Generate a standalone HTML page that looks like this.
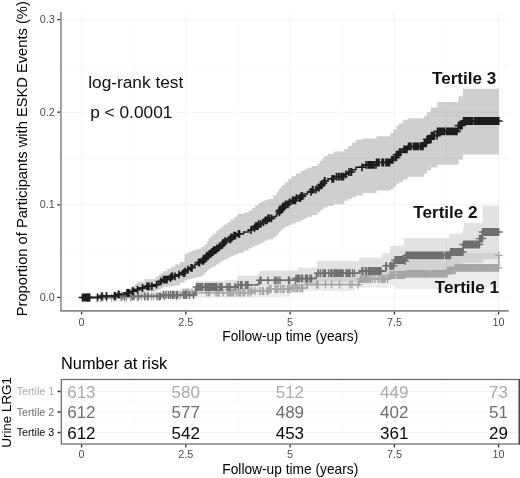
<!DOCTYPE html>
<html><head><meta charset="utf-8"><title>Kaplan-Meier ESKD by Urine LRG1 tertile</title>
<style>
html,body{margin:0;padding:0;background:#fff}
svg{display:block}
text{font-family:"Liberation Sans",Arial,Helvetica,sans-serif}
.tk{font-size:10.8px;fill:#4d4d4d}
.ax{font-size:13.75px;fill:#000}
.lab{font-size:17.1px;font-weight:bold;fill:#111}
.ann{font-size:17.3px;fill:#111}
.n{font-size:17px;text-anchor:middle}
</style></head><body>
<svg width="520" height="478" viewBox="0 0 520 478">
<rect width="520" height="478" fill="#fff"/>
<g><path d="M133.7,12V310" stroke="#f8f8f8" stroke-width="1"/><path d="M238.0,12V310" stroke="#f8f8f8" stroke-width="1"/><path d="M342.2,12V310" stroke="#f8f8f8" stroke-width="1"/><path d="M446.5,12V310" stroke="#f8f8f8" stroke-width="1"/><path d="M81.6,12V310" stroke="#f3f3f3" stroke-width="1"/><path d="M185.8,12V310" stroke="#f3f3f3" stroke-width="1"/><path d="M290.1,12V310" stroke="#f3f3f3" stroke-width="1"/><path d="M394.4,12V310" stroke="#f3f3f3" stroke-width="1"/><path d="M498.6,12V310" stroke="#f3f3f3" stroke-width="1"/><path d="M61,251.0H508.7" stroke="#f8f8f8" stroke-width="1"/><path d="M61,158.5H508.7" stroke="#f8f8f8" stroke-width="1"/><path d="M61,65.9H508.7" stroke="#f8f8f8" stroke-width="1"/><path d="M61,297.3H508.7" stroke="#f3f3f3" stroke-width="1"/><path d="M61,204.8H508.7" stroke="#f3f3f3" stroke-width="1"/><path d="M61,112.2H508.7" stroke="#f3f3f3" stroke-width="1"/><path d="M61,19.7H508.7" stroke="#f3f3f3" stroke-width="1"/></g>
<path d="M81.6,297.5 L140.0,297.5 L140.0,296.8 L141.0,296.8 L141.0,294.0 L180.0,294.0 L180.0,292.0 L181.0,292.0 L181.0,288.0 L280.0,288.0 L280.0,286.0 L290.0,286.0 L290.0,284.0 L305.0,284.0 L305.0,283.0 L308.0,283.0 L308.0,276.0 L355.0,276.0 L355.0,275.0 L359.0,275.0 L359.0,269.0 L388.0,269.0 L388.0,267.0 L390.0,267.0 L390.0,265.0 L395.0,265.0 L395.0,260.0 L445.0,260.0 L445.0,256.5 L447.0,256.5 L447.0,255.8 L455.0,255.8 L455.0,253.0 L498.8,253.0 L498.8,287.7 L455.0,287.7 L455.0,287.5 L447.0,287.5 L447.0,287.6 L445.0,287.6 L445.0,288.9 L395.0,288.9 L395.0,285.5 L390.0,285.5 L390.0,285.6 L388.0,285.6 L388.0,287.7 L359.0,287.7 L359.0,288.0 L355.0,288.0 L355.0,291.0 L308.0,291.0 L308.0,291.4 L305.0,291.4 L305.0,293.5 L290.0,293.5 L290.0,296.5 L280.0,296.5 L280.0,297.0 L181.0,297.0 L181.0,297.5 L180.0,297.5 L180.0,297.5 L141.0,297.5 L141.0,297.5 L140.0,297.5 L140.0,297.5 L81.6,297.5Z" fill="#a8a8a8" fill-opacity="0.22"/>
<path d="M81.6,297.5 L120.0,297.5 L120.0,296.5 L121.0,296.5 L121.0,293.0 L160.0,293.0 L160.0,292.5 L161.0,292.5 L161.0,290.0 L194.0,290.0 L194.0,288.0 L196.0,288.0 L196.0,281.0 L225.0,281.0 L225.0,280.0 L237.7,280.0 L237.7,275.5 L257.0,275.5 L257.0,274.6 L259.0,274.6 L259.0,270.6 L260.0,270.6 L260.0,270.6 L297.0,270.6 L297.0,270.6 L298.0,270.6 L298.0,267.7 L315.0,267.7 L315.0,267.7 L316.0,267.7 L316.0,267.6 L317.0,267.6 L317.0,261.0 L359.0,261.0 L359.0,257.7 L382.0,257.7 L382.0,254.0 L383.0,254.0 L383.0,253.0 L390.0,253.0 L390.0,246.0 L394.0,246.0 L394.0,245.7 L403.0,245.7 L403.0,244.9 L404.0,244.9 L404.0,238.0 L405.0,238.0 L405.0,237.9 L449.0,237.9 L449.0,233.5 L450.0,233.5 L450.0,233.4 L462.0,233.4 L462.0,232.0 L463.0,232.0 L463.0,227.5 L464.0,227.5 L464.0,223.0 L482.0,223.0 L482.0,221.8 L482.7,221.8 L482.7,205.8 L498.8,205.8 L498.8,259.2 L482.7,259.2 L482.7,262.7 L482.0,262.7 L482.0,262.8 L464.0,262.8 L464.0,262.8 L463.0,262.8 L463.0,263.2 L462.0,263.2 L462.0,268.0 L450.0,268.0 L450.0,268.0 L449.0,268.0 L449.0,270.0 L405.0,270.0 L405.0,270.2 L404.0,270.2 L404.0,270.5 L403.0,270.5 L403.0,272.7 L394.0,272.7 L394.0,276.0 L390.0,276.0 L390.0,279.0 L383.0,279.0 L383.0,279.0 L382.0,279.0 L382.0,280.1 L359.0,280.1 L359.0,282.0 L317.0,282.0 L317.0,282.0 L316.0,282.0 L316.0,285.4 L315.0,285.4 L315.0,285.9 L298.0,285.9 L298.0,285.9 L297.0,285.9 L297.0,287.0 L260.0,287.0 L260.0,288.1 L259.0,288.1 L259.0,290.4 L257.0,290.4 L257.0,290.7 L237.7,290.7 L237.7,291.0 L225.0,291.0 L225.0,291.5 L196.0,291.5 L196.0,297.0 L194.0,297.0 L194.0,297.5 L161.0,297.5 L161.0,297.5 L160.0,297.5 L160.0,297.5 L121.0,297.5 L121.0,297.5 L120.0,297.5 L120.0,297.5 L81.6,297.5Z" fill="#707070" fill-opacity="0.2"/>
<path d="M81.6,297.5 L101.6,297.5 L101.6,294.7 L115.8,294.7 L115.8,291.5 L126.3,291.5 L126.3,288.7 L131.8,288.7 L131.8,286.3 L134.8,286.3 L134.8,284.0 L137.8,284.0 L137.8,281.7 L144.6,281.7 L144.6,279.2 L155.8,279.2 L155.8,276.9 L158.3,276.9 L158.3,275.0 L160.8,275.0 L160.8,273.1 L163.3,273.1 L163.3,271.1 L167.1,271.1 L167.1,268.8 L171.1,268.8 L171.1,266.4 L175.1,266.4 L175.1,264.3 L179.8,264.3 L179.8,262.1 L184.6,262.1 L184.6,254.1 L187.3,254.1 L187.3,252.6 L189.8,252.6 L189.8,251.6 L192.3,251.6 L192.3,250.7 L194.8,250.7 L194.8,249.8 L197.3,249.8 L197.3,248.8 L201.1,248.8 L201.1,246.9 L203.6,246.9 L203.6,245.7 L205.3,245.7 L205.3,244.4 L207.1,244.4 L207.1,241.0 L208.8,241.0 L208.8,237.9 L210.8,237.9 L210.8,235.7 L213.3,235.7 L213.3,233.4 L216.1,233.4 L216.1,231.1 L218.8,231.1 L218.8,229.0 L220.8,229.0 L220.8,227.4 L222.6,227.4 L222.6,225.9 L224.3,225.9 L224.3,224.6 L227.3,224.6 L227.3,222.2 L230.6,222.2 L230.6,219.6 L234.1,219.6 L234.1,216.8 L237.6,216.8 L237.6,214.1 L243.6,214.1 L243.6,212.5 L248.8,212.5 L248.8,210.6 L252.1,210.6 L252.1,207.9 L255.3,207.9 L255.3,205.3 L258.6,205.3 L258.6,202.5 L261.6,202.5 L261.6,200.9 L264.6,200.9 L264.6,200.0 L267.6,200.0 L267.6,199.1 L273.1,199.1 L273.1,195.3 L276.4,195.3 L276.4,192.2 L277.9,192.2 L277.9,190.4 L279.4,190.4 L279.4,188.5 L280.9,188.5 L280.9,186.6 L282.4,186.6 L282.4,184.7 L284.9,184.7 L284.9,182.3 L288.4,182.3 L288.4,179.1 L291.6,179.1 L291.6,176.3 L295.9,176.3 L295.9,173.5 L300.9,173.5 L300.9,171.0 L304.1,171.0 L304.1,169.4 L307.4,169.4 L307.4,167.8 L311.9,167.8 L311.9,166.1 L317.6,166.1 L317.6,163.7 L319.9,163.7 L319.9,161.0 L322.1,161.0 L322.1,158.4 L324.1,158.4 L324.1,156.0 L327.9,156.0 L327.9,153.9 L333.9,153.9 L333.9,151.6 L344.4,151.6 L344.4,149.0 L348.1,149.0 L348.1,145.9 L351.9,145.9 L351.9,142.6 L355.9,142.6 L355.9,139.8 L362.9,139.8 L362.9,138.5 L376.6,138.5 L376.6,136.3 L390.4,136.3 L390.4,133.1 L393.4,133.1 L393.4,129.3 L396.4,129.3 L396.4,125.5 L399.1,125.5 L399.1,123.2 L402.9,123.2 L402.9,119.9 L407.6,119.9 L407.6,118.3 L423.9,118.3 L423.9,116.0 L426.9,116.0 L426.9,112.2 L430.9,112.2 L430.9,107.4 L437.4,107.4 L437.4,101.9 L458.4,101.9 L458.4,96.3 L462.9,96.3 L462.9,88.7 L498.8,88.7 L498.8,154.6 L462.9,154.6 L462.9,159.6 L458.4,159.6 L458.4,164.7 L437.4,164.7 L437.4,167.3 L430.9,167.3 L430.9,170.2 L426.9,170.2 L426.9,173.4 L423.9,173.4 L423.9,176.8 L407.6,176.8 L407.6,179.5 L402.9,179.5 L402.9,182.0 L399.1,182.0 L399.1,183.7 L396.4,183.7 L396.4,186.4 L393.4,186.4 L393.4,189.0 L390.4,189.0 L390.4,190.6 L376.6,190.6 L376.6,193.0 L362.9,193.0 L362.9,195.4 L355.9,195.4 L355.9,197.2 L351.9,197.2 L351.9,199.0 L348.1,199.0 L348.1,200.8 L344.4,200.8 L344.4,204.3 L333.9,204.3 L333.9,205.8 L327.9,205.8 L327.9,207.2 L324.1,207.2 L324.1,208.8 L322.1,208.8 L322.1,210.6 L319.9,210.6 L319.9,212.5 L317.6,212.5 L317.6,214.9 L311.9,214.9 L311.9,216.8 L307.4,216.8 L307.4,218.4 L304.1,218.4 L304.1,220.0 L300.9,220.0 L300.9,221.8 L295.9,221.8 L295.9,223.5 L291.6,223.5 L291.6,225.1 L288.4,225.1 L288.4,226.8 L284.9,226.8 L284.9,228.4 L282.4,228.4 L282.4,230.1 L280.9,230.1 L280.9,231.7 L279.4,231.7 L279.4,233.4 L277.9,233.4 L277.9,235.0 L276.4,235.0 L276.4,237.2 L273.1,237.2 L273.1,239.2 L267.6,239.2 L267.6,240.7 L264.6,240.7 L264.6,242.2 L261.6,242.2 L261.6,243.7 L258.6,243.7 L258.6,245.3 L255.3,245.3 L255.3,246.8 L252.1,246.8 L252.1,248.5 L248.8,248.5 L248.8,250.6 L243.6,250.6 L243.6,253.0 L237.6,253.0 L237.6,254.7 L234.1,254.7 L234.1,256.3 L230.6,256.3 L230.6,257.9 L227.3,257.9 L227.3,259.4 L224.3,259.4 L224.3,260.5 L222.6,260.5 L222.6,261.6 L220.8,261.6 L220.8,262.8 L218.8,262.8 L218.8,264.5 L216.1,264.5 L216.1,266.2 L213.3,266.2 L213.3,267.6 L210.8,267.6 L210.8,268.6 L208.8,268.6 L208.8,270.1 L207.1,270.1 L207.1,272.2 L205.3,272.2 L205.3,274.2 L203.6,274.2 L203.6,275.9 L201.1,275.9 L201.1,276.9 L197.3,276.9 L197.3,277.5 L194.8,277.5 L194.8,278.2 L192.3,278.2 L192.3,278.8 L189.8,278.8 L189.8,279.4 L187.3,279.4 L187.3,280.2 L184.6,280.2 L184.6,282.7 L179.8,282.7 L179.8,285.2 L175.1,285.2 L175.1,286.2 L171.1,286.2 L171.1,286.6 L167.1,286.6 L167.1,287.1 L163.3,287.1 L163.3,288.3 L160.8,288.3 L160.8,289.4 L158.3,289.4 L158.3,290.6 L155.8,290.6 L155.8,291.7 L144.6,291.7 L144.6,292.8 L137.8,292.8 L137.8,293.8 L134.8,293.8 L134.8,294.9 L131.8,294.9 L131.8,295.9 L126.3,295.9 L126.3,296.8 L115.8,296.8 L115.8,297.4 L101.6,297.4 L101.6,297.5 L81.6,297.5Z" fill="#222222" fill-opacity="0.215"/>
<path d="M81.6,297.5 L140.0,297.5 L140.0,297.5 L141.0,297.5 L141.0,296.5 L180.0,296.5 L180.0,295.5 L181.0,295.5 L181.0,292.7 L250.0,292.7 L250.0,292.7 L251.0,292.7 L251.0,291.0 L268.0,291.0 L268.0,291.0 L269.0,291.0 L269.0,289.0 L290.0,289.0 L290.0,289.0 L291.0,289.0 L291.0,288.0 L305.0,288.0 L305.0,288.0 L307.0,288.0 L307.0,284.5 L355.0,284.5 L355.0,284.8 L358.0,284.8 L358.0,284.7 L359.0,284.7 L359.0,279.0 L388.0,279.0 L388.0,279.0 L389.0,279.0 L389.0,275.0 L405.0,275.0 L405.0,273.8 L445.0,273.8 L445.0,273.8 L447.0,273.8 L447.0,270.4 L454.0,270.4 L454.0,270.4 L455.0,270.4 L455.0,267.9 L498.8,267.9 V255.4" fill="none" stroke="#a6a6a6" stroke-width="1.6"/>
<path d="M79.1,297.5h7.8M83.0,293.6v7.8M83.1,297.5h7.8M87.0,293.6v7.8M85.6,297.5h7.8M89.5,293.6v7.8M86.1,297.5h7.8M90.0,293.6v7.8M97.6,297.5h7.8M101.5,293.6v7.8M99.1,297.5h7.8M103.0,293.6v7.8M107.6,297.5h7.8M111.5,293.6v7.8M110.1,297.5h7.8M114.0,293.6v7.8M112.1,297.5h7.8M116.0,293.6v7.8M117.1,297.5h7.8M121.0,293.6v7.8M120.6,297.5h7.8M124.5,293.6v7.8M122.6,297.5h7.8M126.5,293.6v7.8M126.6,297.5h7.8M130.5,293.6v7.8M127.1,297.5h7.8M131.0,293.6v7.8M133.6,297.5h7.8M137.5,293.6v7.8M137.6,296.5h7.8M141.5,292.6v7.8M141.6,296.5h7.8M145.5,292.6v7.8M143.6,296.5h7.8M147.5,292.6v7.8M144.1,296.5h7.8M148.0,292.6v7.8M147.6,296.5h7.8M151.5,292.6v7.8M149.6,296.5h7.8M153.5,292.6v7.8M155.1,296.5h7.8M159.0,292.6v7.8M160.6,296.5h7.8M164.5,292.6v7.8M172.6,296.5h7.8M176.5,292.6v7.8M176.1,295.5h7.8M180.0,291.6v7.8M179.6,292.7h7.8M183.5,288.8v7.8M181.6,292.7h7.8M185.5,288.8v7.8M182.1,292.7h7.8M186.0,288.8v7.8M182.6,292.7h7.8M186.5,288.8v7.8M183.6,292.7h7.8M187.5,288.8v7.8M184.1,292.7h7.8M188.0,288.8v7.8M184.6,292.7h7.8M188.5,288.8v7.8M188.1,292.7h7.8M192.0,288.8v7.8M191.1,292.7h7.8M195.0,288.8v7.8M202.6,292.7h7.8M206.5,288.8v7.8M204.6,292.7h7.8M208.5,288.8v7.8M205.6,292.7h7.8M209.5,288.8v7.8M212.1,292.7h7.8M216.0,288.8v7.8M212.6,292.7h7.8M216.5,288.8v7.8M213.1,292.7h7.8M217.0,288.8v7.8M214.6,292.7h7.8M218.5,288.8v7.8M215.1,292.7h7.8M219.0,288.8v7.8M219.1,292.7h7.8M223.0,288.8v7.8M223.6,292.7h7.8M227.5,288.8v7.8M225.1,292.7h7.8M229.0,288.8v7.8M225.6,292.7h7.8M229.5,288.8v7.8M226.6,292.7h7.8M230.5,288.8v7.8M228.1,292.7h7.8M232.0,288.8v7.8M229.6,292.7h7.8M233.5,288.8v7.8M232.6,292.7h7.8M236.5,288.8v7.8M234.6,292.7h7.8M238.5,288.8v7.8M236.1,292.7h7.8M240.0,288.8v7.8M236.6,292.7h7.8M240.5,288.8v7.8M239.1,292.7h7.8M243.0,288.8v7.8M240.6,292.7h7.8M244.5,288.8v7.8M244.1,292.7h7.8M248.0,288.8v7.8M246.6,292.7h7.8M250.5,288.8v7.8M247.1,291.0h7.8M251.0,287.1v7.8M247.6,291.0h7.8M251.5,287.1v7.8M251.1,291.0h7.8M255.0,287.1v7.8M256.1,291.0h7.8M260.0,287.1v7.8M258.6,291.0h7.8M262.5,287.1v7.8M259.6,291.0h7.8M263.5,287.1v7.8M263.1,291.0h7.8M267.0,287.1v7.8M264.1,291.0h7.8M268.0,287.1v7.8M265.6,289.0h7.8M269.5,285.1v7.8M266.1,289.0h7.8M270.0,285.1v7.8M267.1,289.0h7.8M271.0,285.1v7.8M271.1,289.0h7.8M275.0,285.1v7.8M272.6,289.0h7.8M276.5,285.1v7.8M274.1,289.0h7.8M278.0,285.1v7.8M276.6,289.0h7.8M280.5,285.1v7.8M278.6,289.0h7.8M282.5,285.1v7.8M280.1,289.0h7.8M284.0,285.1v7.8M283.6,289.0h7.8M287.5,285.1v7.8M284.1,289.0h7.8M288.0,285.1v7.8M284.6,289.0h7.8M288.5,285.1v7.8M285.6,289.0h7.8M289.5,285.1v7.8M288.1,288.0h7.8M292.0,284.1v7.8M290.1,288.0h7.8M294.0,284.1v7.8M292.1,288.0h7.8M296.0,284.1v7.8M293.6,288.0h7.8M297.5,284.1v7.8M295.6,288.0h7.8M299.5,284.1v7.8M297.6,288.0h7.8M301.5,284.1v7.8M298.6,288.0h7.8M302.5,284.1v7.8M303.1,284.5h7.8M307.0,280.6v7.8M303.6,284.5h7.8M307.5,280.6v7.8M312.6,284.5h7.8M316.5,280.6v7.8M313.6,284.5h7.8M317.5,280.6v7.8M314.1,284.5h7.8M318.0,280.6v7.8M321.6,284.5h7.8M325.5,280.6v7.8M327.6,284.5h7.8M331.5,280.6v7.8M335.6,284.5h7.8M339.5,280.6v7.8M346.1,284.5h7.8M350.0,280.6v7.8M348.1,284.5h7.8M352.0,280.6v7.8M354.1,284.8h7.8M358.0,280.9v7.8M356.6,279.0h7.8M360.5,275.1v7.8M357.1,279.0h7.8M361.0,275.1v7.8M358.1,279.0h7.8M362.0,275.1v7.8M359.1,279.0h7.8M363.0,275.1v7.8M360.1,279.0h7.8M364.0,275.1v7.8M361.6,279.0h7.8M365.5,275.1v7.8M362.1,279.0h7.8M366.0,275.1v7.8M363.1,279.0h7.8M367.0,275.1v7.8M363.6,279.0h7.8M367.5,275.1v7.8M365.1,279.0h7.8M369.0,275.1v7.8M366.1,279.0h7.8M370.0,275.1v7.8M366.6,279.0h7.8M370.5,275.1v7.8M368.6,279.0h7.8M372.5,275.1v7.8M371.1,279.0h7.8M375.0,275.1v7.8M374.1,279.0h7.8M378.0,275.1v7.8M376.1,279.0h7.8M380.0,275.1v7.8M378.1,279.0h7.8M382.0,275.1v7.8M379.1,279.0h7.8M383.0,275.1v7.8M380.1,279.0h7.8M384.0,275.1v7.8M380.6,279.0h7.8M384.5,275.1v7.8M381.1,279.0h7.8M385.0,275.1v7.8M383.6,279.0h7.8M387.5,275.1v7.8M386.6,275.0h7.8M390.5,271.1v7.8M387.1,275.0h7.8M391.0,271.1v7.8M387.6,275.0h7.8M391.5,271.1v7.8M388.6,275.0h7.8M392.5,271.1v7.8M389.1,275.0h7.8M393.0,271.1v7.8M390.6,275.0h7.8M394.5,271.1v7.8M391.1,275.0h7.8M395.0,271.1v7.8M393.1,275.0h7.8M397.0,271.1v7.8M393.6,275.0h7.8M397.5,271.1v7.8M394.6,275.0h7.8M398.5,271.1v7.8M395.1,275.0h7.8M399.0,271.1v7.8M395.6,275.0h7.8M399.5,271.1v7.8M396.6,275.0h7.8M400.5,271.1v7.8M397.1,275.0h7.8M401.0,271.1v7.8M397.6,275.0h7.8M401.5,271.1v7.8M398.1,275.0h7.8M402.0,271.1v7.8M398.6,275.0h7.8M402.5,271.1v7.8M399.1,275.0h7.8M403.0,271.1v7.8M399.6,275.0h7.8M403.5,271.1v7.8M400.1,275.0h7.8M404.0,271.1v7.8M400.6,275.0h7.8M404.5,271.1v7.8M401.6,273.8h7.8M405.5,269.9v7.8M402.6,273.8h7.8M406.5,269.9v7.8M404.1,273.8h7.8M408.0,269.9v7.8M405.1,273.8h7.8M409.0,269.9v7.8M405.6,273.8h7.8M409.5,269.9v7.8M406.1,273.8h7.8M410.0,269.9v7.8M406.6,273.8h7.8M410.5,269.9v7.8M407.1,273.8h7.8M411.0,269.9v7.8M407.6,273.8h7.8M411.5,269.9v7.8M408.1,273.8h7.8M412.0,269.9v7.8M408.6,273.8h7.8M412.5,269.9v7.8M409.1,273.8h7.8M413.0,269.9v7.8M409.6,273.8h7.8M413.5,269.9v7.8M410.1,273.8h7.8M414.0,269.9v7.8M410.6,273.8h7.8M414.5,269.9v7.8M411.1,273.8h7.8M415.0,269.9v7.8M412.1,273.8h7.8M416.0,269.9v7.8M412.6,273.8h7.8M416.5,269.9v7.8M413.6,273.8h7.8M417.5,269.9v7.8M414.1,273.8h7.8M418.0,269.9v7.8M414.6,273.8h7.8M418.5,269.9v7.8M415.1,273.8h7.8M419.0,269.9v7.8M415.6,273.8h7.8M419.5,269.9v7.8M416.1,273.8h7.8M420.0,269.9v7.8M416.6,273.8h7.8M420.5,269.9v7.8M417.1,273.8h7.8M421.0,269.9v7.8M417.6,273.8h7.8M421.5,269.9v7.8M418.1,273.8h7.8M422.0,269.9v7.8M418.6,273.8h7.8M422.5,269.9v7.8M419.1,273.8h7.8M423.0,269.9v7.8M419.6,273.8h7.8M423.5,269.9v7.8M420.1,273.8h7.8M424.0,269.9v7.8M420.6,273.8h7.8M424.5,269.9v7.8M421.6,273.8h7.8M425.5,269.9v7.8M422.1,273.8h7.8M426.0,269.9v7.8M423.1,273.8h7.8M427.0,269.9v7.8M423.6,273.8h7.8M427.5,269.9v7.8M424.6,273.8h7.8M428.5,269.9v7.8M425.1,273.8h7.8M429.0,269.9v7.8M425.6,273.8h7.8M429.5,269.9v7.8M426.1,273.8h7.8M430.0,269.9v7.8M426.6,273.8h7.8M430.5,269.9v7.8M427.1,273.8h7.8M431.0,269.9v7.8M428.6,273.8h7.8M432.5,269.9v7.8M429.1,273.8h7.8M433.0,269.9v7.8M429.6,273.8h7.8M433.5,269.9v7.8M430.6,273.8h7.8M434.5,269.9v7.8M431.1,273.8h7.8M435.0,269.9v7.8M431.6,273.8h7.8M435.5,269.9v7.8M432.1,273.8h7.8M436.0,269.9v7.8M433.1,273.8h7.8M437.0,269.9v7.8M433.6,273.8h7.8M437.5,269.9v7.8M434.1,273.8h7.8M438.0,269.9v7.8M435.1,273.8h7.8M439.0,269.9v7.8M435.6,273.8h7.8M439.5,269.9v7.8M436.1,273.8h7.8M440.0,269.9v7.8M436.6,273.8h7.8M440.5,269.9v7.8M437.1,273.8h7.8M441.0,269.9v7.8M437.6,273.8h7.8M441.5,269.9v7.8M438.1,273.8h7.8M442.0,269.9v7.8M438.6,273.8h7.8M442.5,269.9v7.8M439.1,273.8h7.8M443.0,269.9v7.8M439.6,273.8h7.8M443.5,269.9v7.8M440.6,273.8h7.8M444.5,269.9v7.8M441.1,273.8h7.8M445.0,269.9v7.8M442.1,273.8h7.8M446.0,269.9v7.8M442.6,273.8h7.8M446.5,269.9v7.8M443.1,273.8h7.8M447.0,269.9v7.8M443.6,270.4h7.8M447.5,266.5v7.8M444.6,270.4h7.8M448.5,266.5v7.8M445.1,270.4h7.8M449.0,266.5v7.8M445.6,270.4h7.8M449.5,266.5v7.8M446.6,270.4h7.8M450.5,266.5v7.8M447.6,270.4h7.8M451.5,266.5v7.8M448.1,270.4h7.8M452.0,266.5v7.8M448.6,270.4h7.8M452.5,266.5v7.8M449.1,270.4h7.8M453.0,266.5v7.8M449.6,270.4h7.8M453.5,266.5v7.8M450.1,270.4h7.8M454.0,266.5v7.8M450.6,270.4h7.8M454.5,266.5v7.8M451.1,267.9h7.8M455.0,264.0v7.8M451.1,270.4h7.8M455.0,266.5v7.8M451.6,267.9h7.8M455.5,264.0v7.8M452.1,267.9h7.8M456.0,264.0v7.8M452.6,267.9h7.8M456.5,264.0v7.8M453.1,267.9h7.8M457.0,264.0v7.8M454.1,267.9h7.8M458.0,264.0v7.8M454.6,267.9h7.8M458.5,264.0v7.8M455.1,267.9h7.8M459.0,264.0v7.8M455.6,267.9h7.8M459.5,264.0v7.8M456.1,267.9h7.8M460.0,264.0v7.8M456.6,267.9h7.8M460.5,264.0v7.8M458.1,267.9h7.8M462.0,264.0v7.8M458.6,267.9h7.8M462.5,264.0v7.8M459.6,267.9h7.8M463.5,264.0v7.8M460.1,267.9h7.8M464.0,264.0v7.8M460.6,267.9h7.8M464.5,264.0v7.8M461.6,267.9h7.8M465.5,264.0v7.8M462.1,267.9h7.8M466.0,264.0v7.8M462.6,267.9h7.8M466.5,264.0v7.8M463.1,267.9h7.8M467.0,264.0v7.8M463.6,267.9h7.8M467.5,264.0v7.8M464.1,267.9h7.8M468.0,264.0v7.8M464.6,267.9h7.8M468.5,264.0v7.8M465.1,267.9h7.8M469.0,264.0v7.8M465.6,267.9h7.8M469.5,264.0v7.8M466.1,267.9h7.8M470.0,264.0v7.8M466.6,267.9h7.8M470.5,264.0v7.8M467.1,267.9h7.8M471.0,264.0v7.8M468.6,267.9h7.8M472.5,264.0v7.8M469.1,267.9h7.8M473.0,264.0v7.8M469.6,267.9h7.8M473.5,264.0v7.8M470.1,267.9h7.8M474.0,264.0v7.8M470.6,267.9h7.8M474.5,264.0v7.8M471.1,267.9h7.8M475.0,264.0v7.8M472.1,267.9h7.8M476.0,264.0v7.8M472.6,267.9h7.8M476.5,264.0v7.8M473.1,267.9h7.8M477.0,264.0v7.8M473.6,267.9h7.8M477.5,264.0v7.8M474.1,267.9h7.8M478.0,264.0v7.8M474.6,267.9h7.8M478.5,264.0v7.8M475.1,267.9h7.8M479.0,264.0v7.8M476.1,267.9h7.8M480.0,264.0v7.8M476.6,267.9h7.8M480.5,264.0v7.8M477.1,267.9h7.8M481.0,264.0v7.8M477.6,267.9h7.8M481.5,264.0v7.8M478.6,267.9h7.8M482.5,264.0v7.8M479.1,267.9h7.8M483.0,264.0v7.8M480.6,267.9h7.8M484.5,264.0v7.8M481.1,267.9h7.8M485.0,264.0v7.8M481.6,267.9h7.8M485.5,264.0v7.8M482.6,267.9h7.8M486.5,264.0v7.8M483.1,267.9h7.8M487.0,264.0v7.8M483.6,267.9h7.8M487.5,264.0v7.8M484.1,267.9h7.8M488.0,264.0v7.8M485.1,267.9h7.8M489.0,264.0v7.8M485.6,267.9h7.8M489.5,264.0v7.8M486.6,267.9h7.8M490.5,264.0v7.8M487.1,267.9h7.8M491.0,264.0v7.8M487.6,267.9h7.8M491.5,264.0v7.8M488.1,267.9h7.8M492.0,264.0v7.8M489.1,267.9h7.8M493.0,264.0v7.8M490.1,267.9h7.8M494.0,264.0v7.8M491.1,267.9h7.8M495.0,264.0v7.8M491.6,267.9h7.8M495.5,264.0v7.8M492.6,267.9h7.8M496.5,264.0v7.8M493.1,267.9h7.8M497.0,264.0v7.8M493.6,267.9h7.8M497.5,264.0v7.8M494.1,267.9h7.8M498.0,264.0v7.8M494.6,267.9h7.8M498.5,264.0v7.8M494.9,255.4h7.8M498.8,251.5v7.8" fill="none" stroke="#a6a6a6" stroke-width="1.4"/>
<path d="M81.6,297.5 L120.0,297.5 L120.0,297.5 L121.0,297.5 L121.0,296.3 L160.0,296.3 L160.0,296.3 L161.0,296.3 L161.0,295.0 L194.0,295.0 L194.0,293.8 L196.0,293.8 L196.0,287.0 L225.0,287.0 L225.0,287.0 L237.7,287.0 L237.7,285.0 L257.0,285.0 L257.0,284.5 L258.8,284.5 L258.8,280.3 L295.0,280.3 L295.0,280.3 L296.0,280.3 L296.0,278.5 L315.5,278.5 L315.5,278.4 L316.3,278.4 L316.3,273.2 L358.0,273.2 L358.0,273.0 L360.0,273.0 L360.0,271.0 L383.0,271.0 L383.0,271.0 L385.8,271.0 L385.8,265.8 L394.0,265.8 L394.0,260.0 L404.0,260.0 L404.0,261.0 L405.4,261.0 L405.4,255.4 L449.0,255.4 L449.0,255.4 L450.4,255.4 L450.4,252.0 L462.0,252.0 L462.0,251.9 L463.0,251.9 L463.0,244.5 L479.0,244.5 L479.0,244.4 L479.5,244.4 L479.5,238.6 L482.0,238.6 L482.0,238.4 L482.4,238.4 L482.4,232.0 L498.8,232.0" fill="none" stroke="#6e6e6e" stroke-width="1.6"/>
<path d="M83.1,297.5h7.8M87.0,293.6v7.8M83.6,297.5h7.8M87.5,293.6v7.8M84.6,297.5h7.8M88.5,293.6v7.8M85.1,297.5h7.8M89.0,293.6v7.8M97.1,297.5h7.8M101.0,293.6v7.8M102.6,297.5h7.8M106.5,293.6v7.8M118.1,296.3h7.8M122.0,292.4v7.8M120.6,296.3h7.8M124.5,292.4v7.8M128.6,296.3h7.8M132.5,292.4v7.8M130.1,296.3h7.8M134.0,292.4v7.8M134.6,296.3h7.8M138.5,292.4v7.8M140.6,296.3h7.8M144.5,292.4v7.8M144.1,296.3h7.8M148.0,292.4v7.8M153.1,296.3h7.8M157.0,292.4v7.8M155.6,296.3h7.8M159.5,292.4v7.8M156.6,296.3h7.8M160.5,292.4v7.8M159.6,295.0h7.8M163.5,291.1v7.8M162.1,295.0h7.8M166.0,291.1v7.8M164.6,295.0h7.8M168.5,291.1v7.8M166.6,295.0h7.8M170.5,291.1v7.8M168.6,295.0h7.8M172.5,291.1v7.8M169.1,295.0h7.8M173.0,291.1v7.8M170.1,295.0h7.8M174.0,291.1v7.8M172.6,295.0h7.8M176.5,291.1v7.8M173.6,295.0h7.8M177.5,291.1v7.8M179.6,295.0h7.8M183.5,291.1v7.8M181.1,295.0h7.8M185.0,291.1v7.8M182.6,295.0h7.8M186.5,291.1v7.8M185.6,295.0h7.8M189.5,291.1v7.8M189.6,295.0h7.8M193.5,291.1v7.8M192.6,287.0h7.8M196.5,283.1v7.8M193.1,287.0h7.8M197.0,283.1v7.8M193.6,287.0h7.8M197.5,283.1v7.8M194.1,287.0h7.8M198.0,283.1v7.8M194.6,287.0h7.8M198.5,283.1v7.8M196.1,287.0h7.8M200.0,283.1v7.8M196.6,287.0h7.8M200.5,283.1v7.8M197.1,287.0h7.8M201.0,283.1v7.8M198.6,287.0h7.8M202.5,283.1v7.8M201.1,287.0h7.8M205.0,283.1v7.8M202.1,287.0h7.8M206.0,283.1v7.8M202.6,287.0h7.8M206.5,283.1v7.8M203.1,287.0h7.8M207.0,283.1v7.8M204.6,287.0h7.8M208.5,283.1v7.8M205.1,287.0h7.8M209.0,283.1v7.8M206.1,287.0h7.8M210.0,283.1v7.8M206.6,287.0h7.8M210.5,283.1v7.8M207.1,287.0h7.8M211.0,283.1v7.8M207.6,287.0h7.8M211.5,283.1v7.8M208.1,287.0h7.8M212.0,283.1v7.8M208.6,287.0h7.8M212.5,283.1v7.8M209.1,287.0h7.8M213.0,283.1v7.8M210.1,287.0h7.8M214.0,283.1v7.8M211.1,287.0h7.8M215.0,283.1v7.8M211.6,287.0h7.8M215.5,283.1v7.8M212.1,287.0h7.8M216.0,283.1v7.8M213.1,287.0h7.8M217.0,283.1v7.8M215.6,287.0h7.8M219.5,283.1v7.8M216.1,287.0h7.8M220.0,283.1v7.8M216.6,287.0h7.8M220.5,283.1v7.8M217.1,287.0h7.8M221.0,283.1v7.8M217.6,287.0h7.8M221.5,283.1v7.8M218.1,287.0h7.8M222.0,283.1v7.8M223.1,287.0h7.8M227.0,283.1v7.8M225.1,287.0h7.8M229.0,283.1v7.8M226.1,287.0h7.8M230.0,283.1v7.8M231.1,287.0h7.8M235.0,283.1v7.8M234.1,285.0h7.8M238.0,281.1v7.8M236.6,285.0h7.8M240.5,281.1v7.8M237.6,285.0h7.8M241.5,281.1v7.8M238.1,285.0h7.8M242.0,281.1v7.8M241.6,285.0h7.8M245.5,281.1v7.8M243.1,285.0h7.8M247.0,281.1v7.8M244.1,285.0h7.8M248.0,281.1v7.8M256.1,280.3h7.8M260.0,276.4v7.8M257.1,280.3h7.8M261.0,276.4v7.8M264.1,280.3h7.8M268.0,276.4v7.8M270.6,280.3h7.8M274.5,276.4v7.8M272.1,280.3h7.8M276.0,276.4v7.8M274.1,280.3h7.8M278.0,276.4v7.8M276.1,280.3h7.8M280.0,276.4v7.8M284.6,280.3h7.8M288.5,276.4v7.8M285.6,280.3h7.8M289.5,276.4v7.8M291.6,280.3h7.8M295.5,276.4v7.8M292.1,278.5h7.8M296.0,274.6v7.8M293.6,278.5h7.8M297.5,274.6v7.8M295.1,278.5h7.8M299.0,274.6v7.8M295.6,278.5h7.8M299.5,274.6v7.8M297.6,278.5h7.8M301.5,274.6v7.8M298.6,278.5h7.8M302.5,274.6v7.8M301.6,278.5h7.8M305.5,274.6v7.8M303.1,278.5h7.8M307.0,274.6v7.8M303.6,278.5h7.8M307.5,274.6v7.8M306.1,278.5h7.8M310.0,274.6v7.8M307.6,278.5h7.8M311.5,274.6v7.8M314.1,273.2h7.8M318.0,269.3v7.8M314.6,273.2h7.8M318.5,269.3v7.8M316.6,273.2h7.8M320.5,269.3v7.8M319.1,273.2h7.8M323.0,269.3v7.8M320.6,273.2h7.8M324.5,269.3v7.8M321.1,273.2h7.8M325.0,269.3v7.8M321.6,273.2h7.8M325.5,269.3v7.8M324.6,273.2h7.8M328.5,269.3v7.8M326.6,273.2h7.8M330.5,269.3v7.8M327.6,273.2h7.8M331.5,269.3v7.8M328.1,273.2h7.8M332.0,269.3v7.8M330.1,273.2h7.8M334.0,269.3v7.8M330.6,273.2h7.8M334.5,269.3v7.8M331.6,273.2h7.8M335.5,269.3v7.8M332.1,273.2h7.8M336.0,269.3v7.8M332.6,273.2h7.8M336.5,269.3v7.8M333.6,273.2h7.8M337.5,269.3v7.8M335.1,273.2h7.8M339.0,269.3v7.8M335.6,273.2h7.8M339.5,269.3v7.8M337.1,273.2h7.8M341.0,269.3v7.8M337.6,273.2h7.8M341.5,269.3v7.8M338.6,273.2h7.8M342.5,269.3v7.8M339.1,273.2h7.8M343.0,269.3v7.8M342.1,273.2h7.8M346.0,269.3v7.8M342.6,273.2h7.8M346.5,269.3v7.8M343.1,273.2h7.8M347.0,269.3v7.8M344.6,273.2h7.8M348.5,269.3v7.8M345.6,273.2h7.8M349.5,269.3v7.8M346.1,273.2h7.8M350.0,269.3v7.8M348.6,273.2h7.8M352.5,269.3v7.8M350.6,273.2h7.8M354.5,269.3v7.8M358.1,271.0h7.8M362.0,267.1v7.8M358.6,271.0h7.8M362.5,267.1v7.8M359.1,271.0h7.8M363.0,267.1v7.8M361.6,271.0h7.8M365.5,267.1v7.8M362.6,271.0h7.8M366.5,267.1v7.8M364.6,271.0h7.8M368.5,267.1v7.8M365.6,271.0h7.8M369.5,267.1v7.8M366.6,271.0h7.8M370.5,267.1v7.8M368.1,271.0h7.8M372.0,267.1v7.8M369.6,271.0h7.8M373.5,267.1v7.8M370.1,271.0h7.8M374.0,267.1v7.8M371.6,271.0h7.8M375.5,267.1v7.8M372.1,271.0h7.8M376.0,267.1v7.8M373.1,271.0h7.8M377.0,267.1v7.8M374.6,271.0h7.8M378.5,267.1v7.8M375.1,271.0h7.8M379.0,267.1v7.8M376.1,271.0h7.8M380.0,267.1v7.8M377.1,271.0h7.8M381.0,267.1v7.8M382.1,265.8h7.8M386.0,261.9v7.8M382.6,265.8h7.8M386.5,261.9v7.8M386.1,265.8h7.8M390.0,261.9v7.8M386.6,265.8h7.8M390.5,261.9v7.8M387.6,265.8h7.8M391.5,261.9v7.8M389.1,265.8h7.8M393.0,261.9v7.8M389.6,265.8h7.8M393.5,261.9v7.8M391.1,260.0h7.8M395.0,256.1v7.8M392.1,260.0h7.8M396.0,256.1v7.8M393.1,260.0h7.8M397.0,256.1v7.8M394.1,260.0h7.8M398.0,256.1v7.8M395.1,260.0h7.8M399.0,256.1v7.8M396.1,260.0h7.8M400.0,256.1v7.8M397.1,260.0h7.8M401.0,256.1v7.8M397.6,260.0h7.8M401.5,256.1v7.8M398.1,260.0h7.8M402.0,256.1v7.8M399.1,260.0h7.8M403.0,256.1v7.8M399.6,260.0h7.8M403.5,256.1v7.8M401.1,261.0h7.8M405.0,257.1v7.8M402.1,255.4h7.8M406.0,251.5v7.8M402.6,255.4h7.8M406.5,251.5v7.8M403.1,255.4h7.8M407.0,251.5v7.8M403.6,255.4h7.8M407.5,251.5v7.8M404.1,255.4h7.8M408.0,251.5v7.8M404.6,255.4h7.8M408.5,251.5v7.8M405.1,255.4h7.8M409.0,251.5v7.8M405.6,255.4h7.8M409.5,251.5v7.8M406.6,255.4h7.8M410.5,251.5v7.8M407.6,255.4h7.8M411.5,251.5v7.8M408.1,255.4h7.8M412.0,251.5v7.8M408.6,255.4h7.8M412.5,251.5v7.8M409.6,255.4h7.8M413.5,251.5v7.8M410.1,255.4h7.8M414.0,251.5v7.8M410.6,255.4h7.8M414.5,251.5v7.8M411.1,255.4h7.8M415.0,251.5v7.8M411.6,255.4h7.8M415.5,251.5v7.8M412.6,255.4h7.8M416.5,251.5v7.8M413.1,255.4h7.8M417.0,251.5v7.8M413.6,255.4h7.8M417.5,251.5v7.8M414.1,255.4h7.8M418.0,251.5v7.8M414.6,255.4h7.8M418.5,251.5v7.8M415.6,255.4h7.8M419.5,251.5v7.8M416.1,255.4h7.8M420.0,251.5v7.8M416.6,255.4h7.8M420.5,251.5v7.8M417.1,255.4h7.8M421.0,251.5v7.8M417.6,255.4h7.8M421.5,251.5v7.8M418.1,255.4h7.8M422.0,251.5v7.8M418.6,255.4h7.8M422.5,251.5v7.8M419.6,255.4h7.8M423.5,251.5v7.8M420.1,255.4h7.8M424.0,251.5v7.8M420.6,255.4h7.8M424.5,251.5v7.8M421.6,255.4h7.8M425.5,251.5v7.8M422.1,255.4h7.8M426.0,251.5v7.8M422.6,255.4h7.8M426.5,251.5v7.8M423.1,255.4h7.8M427.0,251.5v7.8M424.1,255.4h7.8M428.0,251.5v7.8M424.6,255.4h7.8M428.5,251.5v7.8M425.1,255.4h7.8M429.0,251.5v7.8M425.6,255.4h7.8M429.5,251.5v7.8M426.1,255.4h7.8M430.0,251.5v7.8M426.6,255.4h7.8M430.5,251.5v7.8M427.1,255.4h7.8M431.0,251.5v7.8M427.6,255.4h7.8M431.5,251.5v7.8M428.1,255.4h7.8M432.0,251.5v7.8M428.6,255.4h7.8M432.5,251.5v7.8M429.1,255.4h7.8M433.0,251.5v7.8M429.6,255.4h7.8M433.5,251.5v7.8M430.1,255.4h7.8M434.0,251.5v7.8M431.1,255.4h7.8M435.0,251.5v7.8M431.6,255.4h7.8M435.5,251.5v7.8M432.1,255.4h7.8M436.0,251.5v7.8M432.6,255.4h7.8M436.5,251.5v7.8M433.1,255.4h7.8M437.0,251.5v7.8M433.6,255.4h7.8M437.5,251.5v7.8M434.1,255.4h7.8M438.0,251.5v7.8M434.6,255.4h7.8M438.5,251.5v7.8M435.1,255.4h7.8M439.0,251.5v7.8M435.6,255.4h7.8M439.5,251.5v7.8M436.1,255.4h7.8M440.0,251.5v7.8M436.6,255.4h7.8M440.5,251.5v7.8M437.1,255.4h7.8M441.0,251.5v7.8M437.6,255.4h7.8M441.5,251.5v7.8M438.1,255.4h7.8M442.0,251.5v7.8M439.6,255.4h7.8M443.5,251.5v7.8M441.6,255.4h7.8M445.5,251.5v7.8M442.1,255.4h7.8M446.0,251.5v7.8M442.6,255.4h7.8M446.5,251.5v7.8M443.6,255.4h7.8M447.5,251.5v7.8M444.1,255.4h7.8M448.0,251.5v7.8M445.1,255.4h7.8M449.0,251.5v7.8M445.6,255.4h7.8M449.5,251.5v7.8M446.6,252.0h7.8M450.5,248.1v7.8M446.6,255.4h7.8M450.5,251.5v7.8M447.1,252.0h7.8M451.0,248.1v7.8M447.6,252.0h7.8M451.5,248.1v7.8M448.1,252.0h7.8M452.0,248.1v7.8M449.1,252.0h7.8M453.0,248.1v7.8M449.6,252.0h7.8M453.5,248.1v7.8M450.1,252.0h7.8M454.0,248.1v7.8M451.6,252.0h7.8M455.5,248.1v7.8M452.1,252.0h7.8M456.0,248.1v7.8M452.6,252.0h7.8M456.5,248.1v7.8M453.1,252.0h7.8M457.0,248.1v7.8M453.6,252.0h7.8M457.5,248.1v7.8M454.1,252.0h7.8M458.0,248.1v7.8M454.6,252.0h7.8M458.5,248.1v7.8M455.1,252.0h7.8M459.0,248.1v7.8M455.6,252.0h7.8M459.5,248.1v7.8M456.1,252.0h7.8M460.0,248.1v7.8M456.6,252.0h7.8M460.5,248.1v7.8M457.1,252.0h7.8M461.0,248.1v7.8M458.1,252.0h7.8M462.0,248.1v7.8M458.6,251.9h7.8M462.5,248.0v7.8M459.1,251.9h7.8M463.0,248.0v7.8M459.6,244.5h7.8M463.5,240.6v7.8M460.1,244.5h7.8M464.0,240.6v7.8M460.6,244.5h7.8M464.5,240.6v7.8M461.1,244.5h7.8M465.0,240.6v7.8M461.6,244.5h7.8M465.5,240.6v7.8M462.1,244.5h7.8M466.0,240.6v7.8M462.6,244.5h7.8M466.5,240.6v7.8M463.1,244.5h7.8M467.0,240.6v7.8M463.6,244.5h7.8M467.5,240.6v7.8M464.1,244.5h7.8M468.0,240.6v7.8M464.6,244.5h7.8M468.5,240.6v7.8M465.1,244.5h7.8M469.0,240.6v7.8M466.1,244.5h7.8M470.0,240.6v7.8M466.6,244.5h7.8M470.5,240.6v7.8M467.1,244.5h7.8M471.0,240.6v7.8M467.6,244.5h7.8M471.5,240.6v7.8M468.6,244.5h7.8M472.5,240.6v7.8M469.1,244.5h7.8M473.0,240.6v7.8M469.6,244.5h7.8M473.5,240.6v7.8M471.1,244.5h7.8M475.0,240.6v7.8M471.6,244.5h7.8M475.5,240.6v7.8M472.1,244.5h7.8M476.0,240.6v7.8M472.6,244.5h7.8M476.5,240.6v7.8M474.1,244.5h7.8M478.0,240.6v7.8M474.6,244.5h7.8M478.5,240.6v7.8M475.1,244.4h7.8M479.0,240.5v7.8M475.1,244.5h7.8M479.0,240.6v7.8M475.6,238.6h7.8M479.5,234.7v7.8M475.6,244.4h7.8M479.5,240.5v7.8M476.6,238.6h7.8M480.5,234.7v7.8M477.1,238.6h7.8M481.0,234.7v7.8M477.6,238.6h7.8M481.5,234.7v7.8M478.1,238.4h7.8M482.0,234.5v7.8M478.1,238.6h7.8M482.0,234.7v7.8M478.6,232.0h7.8M482.5,228.1v7.8M478.6,238.4h7.8M482.5,234.5v7.8M479.6,232.0h7.8M483.5,228.1v7.8M480.6,232.0h7.8M484.5,228.1v7.8M482.1,232.0h7.8M486.0,228.1v7.8M483.1,232.0h7.8M487.0,228.1v7.8M483.6,232.0h7.8M487.5,228.1v7.8M484.1,232.0h7.8M488.0,228.1v7.8M484.6,232.0h7.8M488.5,228.1v7.8M485.1,232.0h7.8M489.0,228.1v7.8M485.6,232.0h7.8M489.5,228.1v7.8M486.1,232.0h7.8M490.0,228.1v7.8M486.6,232.0h7.8M490.5,228.1v7.8M487.1,232.0h7.8M491.0,228.1v7.8M488.1,232.0h7.8M492.0,228.1v7.8M488.6,232.0h7.8M492.5,228.1v7.8M489.1,232.0h7.8M493.0,228.1v7.8M489.6,232.0h7.8M493.5,228.1v7.8M490.6,232.0h7.8M494.5,228.1v7.8M491.6,232.0h7.8M495.5,228.1v7.8M492.1,232.0h7.8M496.0,228.1v7.8M493.1,232.0h7.8M497.0,228.1v7.8M493.6,232.0h7.8M497.5,228.1v7.8M494.1,232.0h7.8M498.0,228.1v7.8M494.9,232.0h7.8M498.8,228.1v7.8" fill="none" stroke="#6e6e6e" stroke-width="1.4"/>
<path d="M81.6,297.5 L101.6,297.5 L101.6,296.0 L115.8,296.0 L115.8,294.4 L126.3,294.4 L126.3,292.8 L131.8,292.8 L131.8,291.2 L134.8,291.2 L134.8,289.6 L137.8,289.6 L137.8,288.0 L144.6,288.0 L144.6,286.3 L155.8,286.3 L155.8,284.7 L158.3,284.7 L158.3,283.0 L160.8,283.0 L160.8,281.4 L163.3,281.4 L163.3,279.7 L167.1,279.7 L167.1,278.0 L171.1,278.0 L171.1,276.3 L175.1,276.3 L175.1,274.7 L179.8,274.7 L179.8,273.0 L184.6,273.0 L184.6,271.3 L187.3,271.3 L187.3,269.5 L189.8,269.5 L189.8,267.8 L192.3,267.8 L192.3,266.1 L194.8,266.1 L194.8,264.4 L197.3,264.4 L197.3,262.6 L201.1,262.6 L201.1,260.9 L203.6,260.9 L203.6,259.1 L205.3,259.1 L205.3,257.3 L207.1,257.3 L207.1,255.6 L208.8,255.6 L208.8,253.8 L210.8,253.8 L210.8,252.0 L213.3,252.0 L213.3,250.2 L216.1,250.2 L216.1,248.4 L218.8,248.4 L218.8,246.6 L220.8,246.6 L220.8,244.8 L222.6,244.8 L222.6,243.0 L224.3,243.0 L224.3,241.2 L227.3,241.2 L227.3,239.3 L230.6,239.3 L230.6,237.5 L234.1,237.5 L234.1,235.6 L237.6,235.6 L237.6,233.8 L243.6,233.8 L243.6,231.9 L248.8,231.9 L248.8,230.0 L252.1,230.0 L252.1,228.1 L255.3,228.1 L255.3,226.2 L258.6,226.2 L258.6,224.2 L261.6,224.2 L261.6,222.3 L264.6,222.3 L264.6,220.3 L267.6,220.3 L267.6,218.4 L273.1,218.4 L273.1,216.4 L276.4,216.4 L276.4,214.4 L277.9,214.4 L277.9,212.4 L279.4,212.4 L279.4,210.4 L280.9,210.4 L280.9,208.4 L282.4,208.4 L282.4,206.4 L284.9,206.4 L284.9,204.3 L288.4,204.3 L288.4,202.3 L291.6,202.3 L291.6,200.3 L295.9,200.3 L295.9,198.2 L300.9,198.2 L300.9,196.1 L304.1,196.1 L304.1,194.0 L307.4,194.0 L307.4,191.9 L311.9,191.9 L311.9,189.7 L317.6,189.7 L317.6,187.6 L319.9,187.6 L319.9,185.4 L322.1,185.4 L322.1,183.2 L324.1,183.2 L324.1,181.0 L327.9,181.0 L327.9,178.8 L333.9,178.8 L333.9,176.6 L344.4,176.6 L344.4,174.3 L348.1,174.3 L348.1,172.0 L351.9,172.0 L351.9,169.7 L355.9,169.7 L355.9,167.3 L362.9,167.3 L362.9,164.9 L376.6,164.9 L376.6,162.5 L390.4,162.5 L390.4,159.9 L393.4,159.9 L393.4,157.4 L396.4,157.4 L396.4,154.7 L399.1,154.7 L399.1,152.1 L402.9,152.1 L402.9,149.3 L407.6,149.3 L407.6,146.4 L423.9,146.4 L423.9,142.9 L426.9,142.9 L426.9,139.3 L430.9,139.3 L430.9,135.6 L437.4,135.6 L437.4,131.4 L458.4,131.4 L458.4,125.5 L462.9,125.5 L462.9,121.0 L498.8,121.0" fill="none" stroke="#1c1c1c" stroke-width="1.5"/>
<path d="M78.6,297.5h7.8M82.5,293.6v7.8M79.1,297.5h7.8M83.0,293.6v7.8M80.1,297.5h7.8M84.0,293.6v7.8M81.6,297.5h7.8M85.5,293.6v7.8M82.1,297.5h7.8M86.0,293.6v7.8M82.6,297.5h7.8M86.5,293.6v7.8M83.1,297.5h7.8M87.0,293.6v7.8M84.6,297.5h7.8M88.5,293.6v7.8M85.6,297.5h7.8M89.5,293.6v7.8M93.6,297.5h7.8M97.5,293.6v7.8M98.1,296.0h7.8M102.0,292.1v7.8M102.6,296.0h7.8M106.5,292.1v7.8M110.6,296.0h7.8M114.5,292.1v7.8M111.1,296.0h7.8M115.0,292.1v7.8M114.6,294.4h7.8M118.5,290.5v7.8M115.1,294.4h7.8M119.0,290.5v7.8M123.1,292.8h7.8M127.0,288.9v7.8M123.6,292.8h7.8M127.5,288.9v7.8M124.6,292.8h7.8M128.5,288.9v7.8M125.1,292.8h7.8M129.0,288.9v7.8M128.6,291.2h7.8M132.5,287.3v7.8M129.1,291.2h7.8M133.0,287.3v7.8M133.6,289.6h7.8M137.5,285.7v7.8M138.6,288.0h7.8M142.5,284.1v7.8M143.1,286.3h7.8M147.0,282.4v7.8M143.6,286.3h7.8M147.5,282.4v7.8M144.6,286.3h7.8M148.5,282.4v7.8M145.1,286.3h7.8M149.0,282.4v7.8M147.6,286.3h7.8M151.5,282.4v7.8M148.1,286.3h7.8M152.0,282.4v7.8M152.6,284.7h7.8M156.5,280.8v7.8M157.1,281.4h7.8M161.0,277.5v7.8M159.6,279.7h7.8M163.5,275.8v7.8M160.1,279.7h7.8M164.0,275.8v7.8M160.6,279.7h7.8M164.5,275.8v7.8M162.1,279.7h7.8M166.0,275.8v7.8M163.1,279.7h7.8M167.0,275.8v7.8M166.6,278.0h7.8M170.5,274.1v7.8M167.6,276.3h7.8M171.5,272.4v7.8M168.6,276.3h7.8M172.5,272.4v7.8M171.1,276.3h7.8M175.0,272.4v7.8M175.1,274.7h7.8M179.0,270.8v7.8M179.6,273.0h7.8M183.5,269.1v7.8M180.6,273.0h7.8M184.5,269.1v7.8M181.1,271.3h7.8M185.0,267.4v7.8M184.1,269.5h7.8M188.0,265.6v7.8M187.1,267.8h7.8M191.0,263.9v7.8M188.1,267.8h7.8M192.0,263.9v7.8M194.6,262.6h7.8M198.5,258.7v7.8M195.6,262.6h7.8M199.5,258.7v7.8M198.6,260.9h7.8M202.5,257.0v7.8M199.1,260.9h7.8M203.0,257.0v7.8M199.6,259.1h7.8M203.5,255.2v7.8M199.6,260.9h7.8M203.5,257.0v7.8M200.1,259.1h7.8M204.0,255.2v7.8M200.6,259.1h7.8M204.5,255.2v7.8M201.1,259.1h7.8M205.0,255.2v7.8M202.1,257.3h7.8M206.0,253.4v7.8M203.1,255.6h7.8M207.0,251.7v7.8M203.6,255.6h7.8M207.5,251.7v7.8M204.6,255.6h7.8M208.5,251.7v7.8M205.6,253.8h7.8M209.5,249.9v7.8M206.1,253.8h7.8M210.0,249.9v7.8M206.6,253.8h7.8M210.5,249.9v7.8M207.1,253.8h7.8M211.0,249.9v7.8M208.1,252.0h7.8M212.0,248.1v7.8M209.1,252.0h7.8M213.0,248.1v7.8M209.6,250.2h7.8M213.5,246.3v7.8M211.1,250.2h7.8M215.0,246.3v7.8M212.1,250.2h7.8M216.0,246.3v7.8M213.1,248.4h7.8M217.0,244.5v7.8M214.1,248.4h7.8M218.0,244.5v7.8M215.6,246.6h7.8M219.5,242.7v7.8M218.6,244.8h7.8M222.5,240.9v7.8M219.1,243.0h7.8M223.0,239.1v7.8M219.6,243.0h7.8M223.5,239.1v7.8M220.1,243.0h7.8M224.0,239.1v7.8M221.1,241.2h7.8M225.0,237.3v7.8M221.6,241.2h7.8M225.5,237.3v7.8M225.6,239.3h7.8M229.5,235.4v7.8M226.6,239.3h7.8M230.5,235.4v7.8M227.1,237.5h7.8M231.0,233.6v7.8M228.1,237.5h7.8M232.0,233.6v7.8M230.1,235.6h7.8M234.0,231.7v7.8M230.6,235.6h7.8M234.5,231.7v7.8M231.6,235.6h7.8M235.5,231.7v7.8M234.6,233.8h7.8M238.5,229.9v7.8M235.1,233.8h7.8M239.0,229.9v7.8M235.6,233.8h7.8M239.5,229.9v7.8M247.1,230.0h7.8M251.0,226.1v7.8M250.6,228.1h7.8M254.5,224.2v7.8M251.6,226.2h7.8M255.5,222.3v7.8M253.1,226.2h7.8M257.0,222.3v7.8M254.1,226.2h7.8M258.0,222.3v7.8M254.6,224.2h7.8M258.5,220.3v7.8M256.6,224.2h7.8M260.5,220.3v7.8M259.6,222.3h7.8M263.5,218.4v7.8M261.6,220.3h7.8M265.5,216.4v7.8M262.1,220.3h7.8M266.0,216.4v7.8M263.1,220.3h7.8M267.0,216.4v7.8M264.1,218.4h7.8M268.0,214.5v7.8M265.1,218.4h7.8M269.0,214.5v7.8M265.6,218.4h7.8M269.5,214.5v7.8M267.6,218.4h7.8M271.5,214.5v7.8M275.6,210.4h7.8M279.5,206.5v7.8M275.6,212.4h7.8M279.5,208.5v7.8M276.1,210.4h7.8M280.0,206.5v7.8M276.6,210.4h7.8M280.5,206.5v7.8M278.1,208.4h7.8M282.0,204.5v7.8M278.6,208.4h7.8M282.5,204.5v7.8M279.1,206.4h7.8M283.0,202.5v7.8M280.1,206.4h7.8M284.0,202.5v7.8M280.6,206.4h7.8M284.5,202.5v7.8M281.6,204.3h7.8M285.5,200.4v7.8M283.6,204.3h7.8M287.5,200.4v7.8M284.1,204.3h7.8M288.0,200.4v7.8M285.6,202.3h7.8M289.5,198.4v7.8M288.6,200.3h7.8M292.5,196.4v7.8M289.1,200.3h7.8M293.0,196.4v7.8M289.6,200.3h7.8M293.5,196.4v7.8M291.1,200.3h7.8M295.0,196.4v7.8M291.6,200.3h7.8M295.5,196.4v7.8M292.6,198.2h7.8M296.5,194.3v7.8M295.6,198.2h7.8M299.5,194.3v7.8M296.6,198.2h7.8M300.5,194.3v7.8M297.1,196.1h7.8M301.0,192.2v7.8M298.6,196.1h7.8M302.5,192.2v7.8M307.1,191.9h7.8M311.0,188.0v7.8M308.6,189.7h7.8M312.5,185.8v7.8M309.1,189.7h7.8M313.0,185.8v7.8M312.1,189.7h7.8M316.0,185.8v7.8M314.6,187.6h7.8M318.5,183.7v7.8M315.1,187.6h7.8M319.0,183.7v7.8M316.6,185.4h7.8M320.5,181.5v7.8M317.1,185.4h7.8M321.0,181.5v7.8M317.6,185.4h7.8M321.5,181.5v7.8M319.6,183.2h7.8M323.5,179.3v7.8M320.6,181.0h7.8M324.5,177.1v7.8M321.1,181.0h7.8M325.0,177.1v7.8M328.1,178.8h7.8M332.0,174.9v7.8M329.6,178.8h7.8M333.5,174.9v7.8M332.6,176.6h7.8M336.5,172.7v7.8M334.6,176.6h7.8M338.5,172.7v7.8M335.1,176.6h7.8M339.0,172.7v7.8M337.1,176.6h7.8M341.0,172.7v7.8M338.6,176.6h7.8M342.5,172.7v7.8M339.1,176.6h7.8M343.0,172.7v7.8M339.6,176.6h7.8M343.5,172.7v7.8M342.1,174.3h7.8M346.0,170.4v7.8M345.1,172.0h7.8M349.0,168.1v7.8M347.1,172.0h7.8M351.0,168.1v7.8M347.6,172.0h7.8M351.5,168.1v7.8M358.1,167.3h7.8M362.0,163.4v7.8M362.1,164.9h7.8M366.0,161.0v7.8M364.1,164.9h7.8M368.0,161.0v7.8M365.6,164.9h7.8M369.5,161.0v7.8M367.1,164.9h7.8M371.0,161.0v7.8M368.6,164.9h7.8M372.5,161.0v7.8M370.1,164.9h7.8M374.0,161.0v7.8M372.1,164.9h7.8M376.0,161.0v7.8M372.6,162.5h7.8M376.5,158.6v7.8M373.6,162.5h7.8M377.5,158.6v7.8M374.1,162.5h7.8M378.0,158.6v7.8M375.1,162.5h7.8M379.0,158.6v7.8M378.1,162.5h7.8M382.0,158.6v7.8M379.1,162.5h7.8M383.0,158.6v7.8M379.6,162.5h7.8M383.5,158.6v7.8M382.1,162.5h7.8M386.0,158.6v7.8M383.6,162.5h7.8M387.5,158.6v7.8M384.1,162.5h7.8M388.0,158.6v7.8M385.6,162.5h7.8M389.5,158.6v7.8M387.6,159.9h7.8M391.5,156.0v7.8M389.1,159.9h7.8M393.0,156.0v7.8M391.6,157.4h7.8M395.5,153.5v7.8M392.6,154.7h7.8M396.5,150.8v7.8M392.6,157.4h7.8M396.5,153.5v7.8M393.1,154.7h7.8M397.0,150.8v7.8M394.1,154.7h7.8M398.0,150.8v7.8M395.6,152.1h7.8M399.5,148.2v7.8M396.1,152.1h7.8M400.0,148.2v7.8M396.6,152.1h7.8M400.5,148.2v7.8M397.1,152.1h7.8M401.0,148.2v7.8M400.1,149.3h7.8M404.0,145.4v7.8M400.6,149.3h7.8M404.5,145.4v7.8M401.1,149.3h7.8M405.0,145.4v7.8M402.6,149.3h7.8M406.5,145.4v7.8M403.1,149.3h7.8M407.0,145.4v7.8M404.6,146.4h7.8M408.5,142.5v7.8M405.1,146.4h7.8M409.0,142.5v7.8M405.6,146.4h7.8M409.5,142.5v7.8M406.1,146.4h7.8M410.0,142.5v7.8M407.1,146.4h7.8M411.0,142.5v7.8M409.6,146.4h7.8M413.5,142.5v7.8M410.1,146.4h7.8M414.0,142.5v7.8M410.6,146.4h7.8M414.5,142.5v7.8M412.1,146.4h7.8M416.0,142.5v7.8M412.6,146.4h7.8M416.5,142.5v7.8M413.1,146.4h7.8M417.0,142.5v7.8M414.1,146.4h7.8M418.0,142.5v7.8M414.6,146.4h7.8M418.5,142.5v7.8M416.6,146.4h7.8M420.5,142.5v7.8M417.1,146.4h7.8M421.0,142.5v7.8M418.1,146.4h7.8M422.0,142.5v7.8M419.1,146.4h7.8M423.0,142.5v7.8M420.6,142.9h7.8M424.5,139.0v7.8M421.1,142.9h7.8M425.0,139.0v7.8M421.6,142.9h7.8M425.5,139.0v7.8M422.1,142.9h7.8M426.0,139.0v7.8M422.6,142.9h7.8M426.5,139.0v7.8M423.1,139.3h7.8M427.0,135.4v7.8M423.6,139.3h7.8M427.5,135.4v7.8M424.1,139.3h7.8M428.0,135.4v7.8M424.6,139.3h7.8M428.5,135.4v7.8M425.1,139.3h7.8M429.0,135.4v7.8M426.1,139.3h7.8M430.0,135.4v7.8M426.6,139.3h7.8M430.5,135.4v7.8M427.1,139.3h7.8M431.0,135.4v7.8M427.6,135.6h7.8M431.5,131.7v7.8M428.6,135.6h7.8M432.5,131.7v7.8M429.1,135.6h7.8M433.0,131.7v7.8M429.6,135.6h7.8M433.5,131.7v7.8M430.1,135.6h7.8M434.0,131.7v7.8M430.6,135.6h7.8M434.5,131.7v7.8M433.1,135.6h7.8M437.0,131.7v7.8M433.6,131.4h7.8M437.5,127.5v7.8M434.1,131.4h7.8M438.0,127.5v7.8M434.6,131.4h7.8M438.5,127.5v7.8M435.6,131.4h7.8M439.5,127.5v7.8M436.1,131.4h7.8M440.0,127.5v7.8M436.6,131.4h7.8M440.5,127.5v7.8M437.6,131.4h7.8M441.5,127.5v7.8M438.1,131.4h7.8M442.0,127.5v7.8M438.6,131.4h7.8M442.5,127.5v7.8M439.1,131.4h7.8M443.0,127.5v7.8M439.6,131.4h7.8M443.5,127.5v7.8M440.1,131.4h7.8M444.0,127.5v7.8M440.6,131.4h7.8M444.5,127.5v7.8M442.6,131.4h7.8M446.5,127.5v7.8M443.1,131.4h7.8M447.0,127.5v7.8M444.6,131.4h7.8M448.5,127.5v7.8M445.1,131.4h7.8M449.0,127.5v7.8M445.6,131.4h7.8M449.5,127.5v7.8M446.1,131.4h7.8M450.0,127.5v7.8M446.6,131.4h7.8M450.5,127.5v7.8M447.6,131.4h7.8M451.5,127.5v7.8M448.1,131.4h7.8M452.0,127.5v7.8M448.6,131.4h7.8M452.5,127.5v7.8M449.1,131.4h7.8M453.0,127.5v7.8M450.6,131.4h7.8M454.5,127.5v7.8M451.1,131.4h7.8M455.0,127.5v7.8M451.6,131.4h7.8M455.5,127.5v7.8M452.1,131.4h7.8M456.0,127.5v7.8M452.6,131.4h7.8M456.5,127.5v7.8M453.1,131.4h7.8M457.0,127.5v7.8M454.6,125.5h7.8M458.5,121.6v7.8M455.1,125.5h7.8M459.0,121.6v7.8M455.6,125.5h7.8M459.5,121.6v7.8M456.1,125.5h7.8M460.0,121.6v7.8M457.6,125.5h7.8M461.5,121.6v7.8M458.1,125.5h7.8M462.0,121.6v7.8M459.6,121.0h7.8M463.5,117.1v7.8M460.1,121.0h7.8M464.0,117.1v7.8M460.6,121.0h7.8M464.5,117.1v7.8M461.1,121.0h7.8M465.0,117.1v7.8M461.6,121.0h7.8M465.5,117.1v7.8M462.6,121.0h7.8M466.5,117.1v7.8M463.1,121.0h7.8M467.0,117.1v7.8M463.6,121.0h7.8M467.5,117.1v7.8M464.1,121.0h7.8M468.0,117.1v7.8M464.6,121.0h7.8M468.5,117.1v7.8M465.1,121.0h7.8M469.0,117.1v7.8M465.6,121.0h7.8M469.5,117.1v7.8M466.1,121.0h7.8M470.0,117.1v7.8M466.6,121.0h7.8M470.5,117.1v7.8M467.1,121.0h7.8M471.0,117.1v7.8M467.6,121.0h7.8M471.5,117.1v7.8M468.1,121.0h7.8M472.0,117.1v7.8M468.6,121.0h7.8M472.5,117.1v7.8M470.6,121.0h7.8M474.5,117.1v7.8M471.6,121.0h7.8M475.5,117.1v7.8M472.6,121.0h7.8M476.5,117.1v7.8M473.6,121.0h7.8M477.5,117.1v7.8M474.1,121.0h7.8M478.0,117.1v7.8M474.6,121.0h7.8M478.5,117.1v7.8M475.6,121.0h7.8M479.5,117.1v7.8M476.1,121.0h7.8M480.0,117.1v7.8M476.6,121.0h7.8M480.5,117.1v7.8M477.1,121.0h7.8M481.0,117.1v7.8M477.6,121.0h7.8M481.5,117.1v7.8M478.1,121.0h7.8M482.0,117.1v7.8M478.6,121.0h7.8M482.5,117.1v7.8M479.1,121.0h7.8M483.0,117.1v7.8M479.6,121.0h7.8M483.5,117.1v7.8M480.6,121.0h7.8M484.5,117.1v7.8M481.1,121.0h7.8M485.0,117.1v7.8M481.6,121.0h7.8M485.5,117.1v7.8M482.1,121.0h7.8M486.0,117.1v7.8M483.6,121.0h7.8M487.5,117.1v7.8M484.1,121.0h7.8M488.0,117.1v7.8M485.1,121.0h7.8M489.0,117.1v7.8M485.6,121.0h7.8M489.5,117.1v7.8M486.1,121.0h7.8M490.0,117.1v7.8M486.6,121.0h7.8M490.5,117.1v7.8M487.1,121.0h7.8M491.0,117.1v7.8M487.6,121.0h7.8M491.5,117.1v7.8M488.1,121.0h7.8M492.0,117.1v7.8M489.1,121.0h7.8M493.0,117.1v7.8M489.6,121.0h7.8M493.5,117.1v7.8M491.1,121.0h7.8M495.0,117.1v7.8M491.6,121.0h7.8M495.5,117.1v7.8M492.1,121.0h7.8M496.0,117.1v7.8M493.1,121.0h7.8M497.0,117.1v7.8M493.6,121.0h7.8M497.5,117.1v7.8M494.6,121.0h7.8M498.5,117.1v7.8M494.9,121.0h7.8M498.8,117.1v7.8" fill="none" stroke="#1c1c1c" stroke-width="1.6"/>
<path d="M60.95,11.9V311" stroke="#989898" stroke-width="1.8"/><path d="M60.05,310.9H508.7" stroke="#8a8a8a" stroke-width="1.6"/>
<path d="M57.2,297.3H60.1M57.2,204.8H60.1M57.2,112.2H60.1M57.2,19.7H60.1M81.6,311.7V314.4M185.8,311.7V314.4M290.1,311.7V314.4M394.4,311.7V314.4M498.6,311.7V314.4" stroke="#333" stroke-width="1.3"/>
<text class="tk" x="54.7" y="301.0" text-anchor="end">0.0</text><text class="tk" x="54.7" y="208.4" text-anchor="end">0.1</text><text class="tk" x="54.7" y="115.9" text-anchor="end">0.2</text><text class="tk" x="54.7" y="23.4" text-anchor="end">0.3</text><text class="tk" x="81.6" y="325.5" text-anchor="middle">0</text><text class="tk" x="185.8" y="325.5" text-anchor="middle">2.5</text><text class="tk" x="290.1" y="325.5" text-anchor="middle">5</text><text class="tk" x="394.4" y="325.5" text-anchor="middle">7.5</text><text class="tk" x="498.6" y="325.5" text-anchor="middle">10</text>
<text class="ax" x="290.3" y="341" text-anchor="middle">Follow-up time (years)</text>
<text class="ax" style="font-size:14.7px" transform="translate(27.3,316.3) rotate(-90)">Proportion of Participants with ESKD Events (%)</text>
<text class="ann" x="88.2" y="88.4">log-rank test</text>
<text class="ann" x="90.2" y="118">p &lt; 0.0001</text>
<text class="lab" x="432" y="83.6">Tertile 3</text>
<text class="lab" x="413.3" y="217.6">Tertile 2</text>
<text class="lab" x="434.8" y="293.4">Tertile 1</text>
<text x="61" y="368.6" font-size="16.35px" fill="#000">Number at risk</text>
<g><path d="M133.7,380V444" stroke="#f8f8f8" stroke-width="1"/><path d="M238.0,380V444" stroke="#f8f8f8" stroke-width="1"/><path d="M342.2,380V444" stroke="#f8f8f8" stroke-width="1"/><path d="M446.5,380V444" stroke="#f8f8f8" stroke-width="1"/><path d="M81.6,380V444" stroke="#f3f3f3" stroke-width="1"/><path d="M185.8,380V444" stroke="#f3f3f3" stroke-width="1"/><path d="M290.1,380V444" stroke="#f3f3f3" stroke-width="1"/><path d="M394.4,380V444" stroke="#f3f3f3" stroke-width="1"/><path d="M498.6,380V444" stroke="#f3f3f3" stroke-width="1"/><path d="M61,391.5H518" stroke="#f3f3f3" stroke-width="1"/><path d="M61,412.0H518" stroke="#f3f3f3" stroke-width="1"/><path d="M61,432.5H518" stroke="#f3f3f3" stroke-width="1"/><path d="M61,401.7H518" stroke="#f8f8f8" stroke-width="1"/><path d="M61,422.2H518" stroke="#f8f8f8" stroke-width="1"/></g>
<rect x="61.3" y="379.5" width="457.9" height="64.5" fill="none" stroke="#646464" stroke-width="1.2"/><path d="M519.4,379V444.6" stroke="#484848" stroke-width="1.2"/>
<path d="M57.6,391.5H60.6M57.6,412.0H60.6M57.6,432.5H60.6M81.6,444.6V447.4M185.8,444.6V447.4M290.1,444.6V447.4M394.4,444.6V447.4M498.6,444.6V447.4" stroke="#333" stroke-width="1.3"/>
<text x="54.3" y="395.2" text-anchor="end" font-size="10.75px" fill="#ababab">Tertile 1</text><text class="n" x="81.4" y="397.9" fill="#ababab">613</text><text class="n" x="185.7" y="397.9" fill="#ababab">580</text><text class="n" x="289.9" y="397.9" fill="#ababab">512</text><text class="n" x="394.2" y="397.9" fill="#ababab">449</text><text class="n" x="498.4" y="397.9" fill="#ababab">73</text>
<text x="54.3" y="415.5" text-anchor="end" font-size="10.75px" fill="#6e6e6e">Tertile 2</text><text class="n" x="81.4" y="418.2" fill="#6e6e6e">612</text><text class="n" x="185.7" y="418.2" fill="#6e6e6e">577</text><text class="n" x="289.9" y="418.2" fill="#6e6e6e">489</text><text class="n" x="394.2" y="418.2" fill="#6e6e6e">402</text><text class="n" x="498.4" y="418.2" fill="#6e6e6e">51</text>
<text x="54.3" y="435.9" text-anchor="end" font-size="10.75px" fill="#0a0a0a">Tertile 3</text><text class="n" x="81.4" y="438.6" fill="#0a0a0a">612</text><text class="n" x="185.7" y="438.6" fill="#0a0a0a">542</text><text class="n" x="289.9" y="438.6" fill="#0a0a0a">453</text><text class="n" x="394.2" y="438.6" fill="#0a0a0a">361</text><text class="n" x="498.4" y="438.6" fill="#0a0a0a">29</text>
<text class="tk" x="81.6" y="458.3" text-anchor="middle">0</text><text class="tk" x="185.8" y="458.3" text-anchor="middle">2.5</text><text class="tk" x="290.1" y="458.3" text-anchor="middle">5</text><text class="tk" x="394.4" y="458.3" text-anchor="middle">7.5</text><text class="tk" x="498.6" y="458.3" text-anchor="middle">10</text>
<text class="ax" x="290.3" y="473.9" text-anchor="middle">Follow-up time (years)</text>
<text class="ax" style="font-size:13.4px" transform="translate(10.6,412.4) rotate(-90)" text-anchor="middle">Urine LRG1</text>
</svg>
</body></html>
